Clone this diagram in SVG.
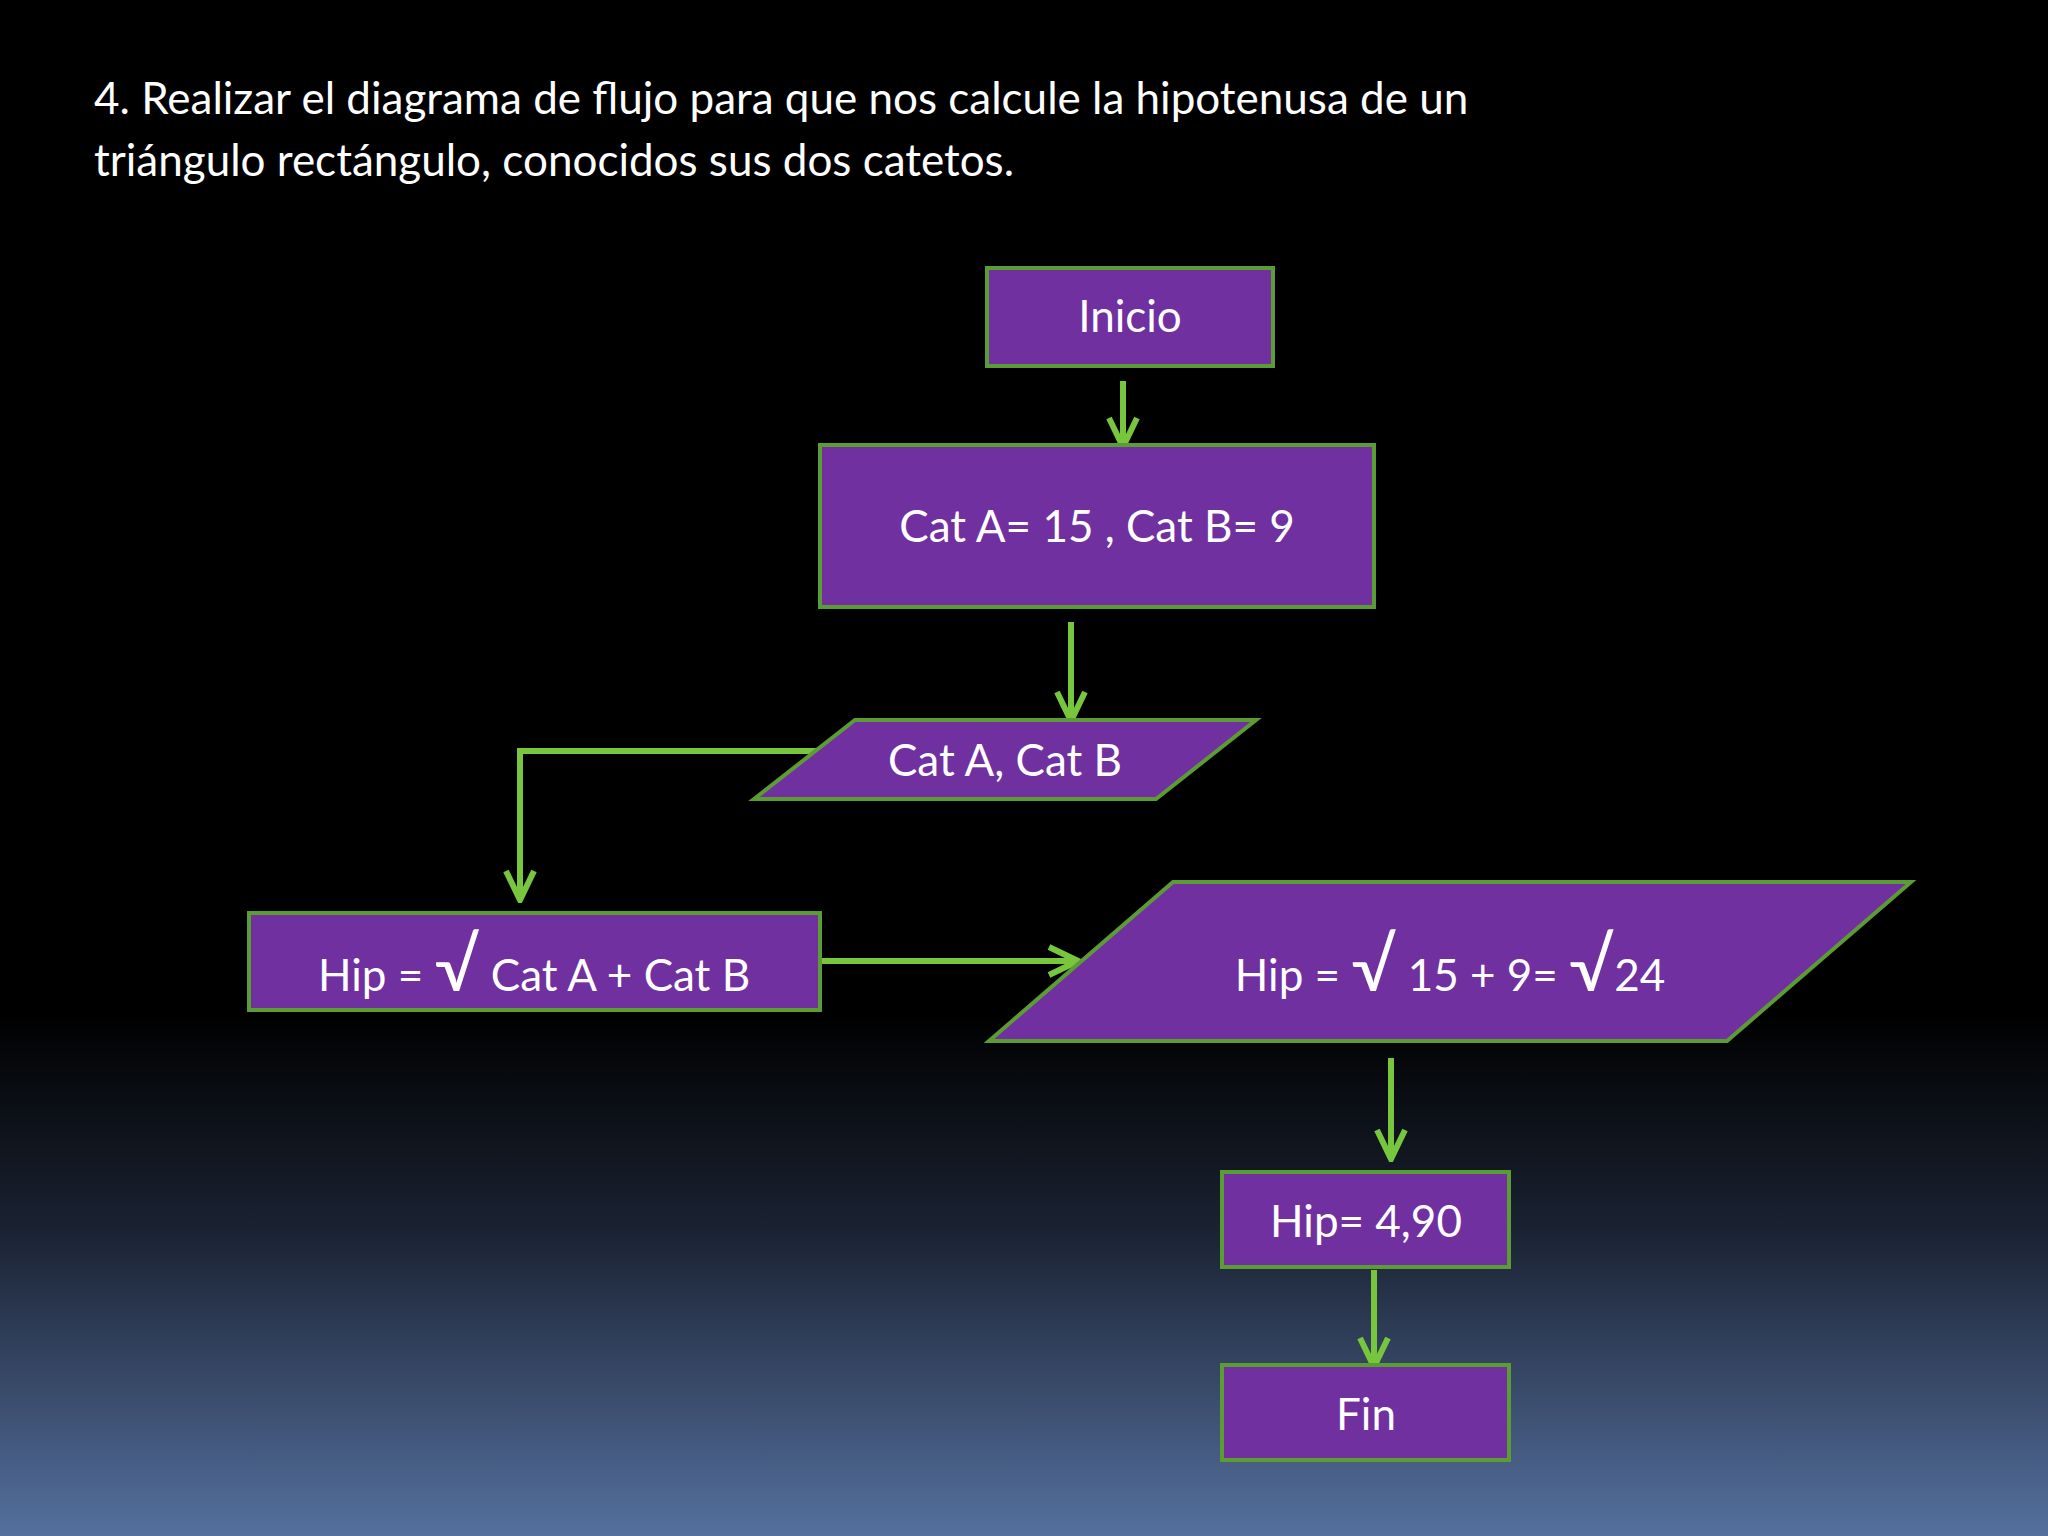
<svg xmlns="http://www.w3.org/2000/svg" width="2048" height="1536" viewBox="0 0 2048 1536">
<defs>
<linearGradient id="bg" x1="0" y1="0" x2="0" y2="1">
<stop offset="0" stop-color="#000"/><stop offset="0.66" stop-color="#000"/><stop offset="0.8" stop-color="#1a2232"/><stop offset="1" stop-color="#55709e"/>
</linearGradient>
<marker id="ah" viewBox="0 0 20 20" refX="18" refY="10" markerWidth="20" markerHeight="20" markerUnits="userSpaceOnUse" orient="auto">
<path d="M2,2 L18,10 L2,18" fill="none" stroke="#77c63e" stroke-width="4"/>
</marker>
<marker id="ah2" viewBox="0 0 36 36" refX="34" refY="18" markerWidth="36" markerHeight="36" markerUnits="userSpaceOnUse" orient="auto">
<path d="M4,4 L33,18 L4,32" fill="none" stroke="#77c63e" stroke-width="6"/>
</marker>
<style>
.n{fill:#7030a0;stroke:#5c9c34;stroke-width:4}
.t{font-family:Lato,"Open Sans",sans-serif;fill:#fff;font-size:44px;text-anchor:middle}
.c{fill:none;stroke:#77c63e;stroke-width:6;marker-end:url(#ah2)}
.h{font-family:Lato,"Open Sans",sans-serif;fill:#fff;font-size:44px}
</style>
</defs>
<rect width="2048" height="1536" fill="url(#bg)"/>
<text class="h" x="94" y="114">4. Realizar el diagrama de flujo para que nos calcule la hipotenusa de un</text>
<text class="h" x="94" y="176">triángulo rectángulo, conocidos sus dos catetos.</text>
<g id="connectors">
<line class="c" x1="1123" y1="381" x2="1123" y2="448"/>
<line class="c" x1="1071" y1="622" x2="1071" y2="722"/>
<polyline class="c" points="828,751 520,751 520,901"/>
<line class="c" x1="820" y1="961" x2="1079" y2="961"/>
<line class="c" x1="1391" y1="1058" x2="1391" y2="1160"/>
<line class="c" x1="1374" y1="1270" x2="1374" y2="1368"/>
</g>
<g id="inicio"><rect class="n" x="987" y="268" width="286" height="98"/><text class="t" x="1130" y="332">Inicio</text></g>
<g id="datos"><rect class="n" x="820" y="445" width="554" height="162"/><text class="t" x="1097" y="542">Cat A= 15 , Cat B= 9</text></g>
<g id="entrada"><polygon class="n" points="855,720 1256,720 1156,799 754,799"/><text class="t" x="1005" y="776">Cat A, Cat B</text></g>
<g id="formula"><rect class="n" x="249" y="913" width="571" height="97"/><text class="t" x="534" y="991">Hip = <tspan font-size="72">√</tspan> Cat A + Cat B</text></g>
<g id="calculo"><polygon class="n" points="1173,882 1911,882 1727,1041 989,1041"/><text class="t" x="1450" y="991">Hip = <tspan font-size="72">√</tspan> 15 + 9= <tspan font-size="72">√</tspan>24</text></g>
<g id="resultado"><rect class="n" x="1222" y="1172" width="287" height="95"/><text class="t" x="1366" y="1237">Hip= 4,90</text></g>
<g id="fin"><rect class="n" x="1222" y="1365" width="287" height="95"/><text class="t" x="1366" y="1430">Fin</text></g>
</svg>
